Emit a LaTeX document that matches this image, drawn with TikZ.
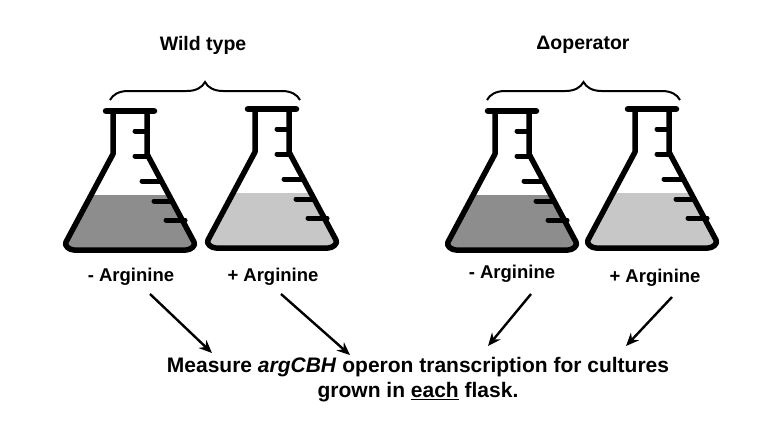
\documentclass[tikz,border=0pt]{standalone}
\usepackage{fontspec}
\setmainfont{Liberation Sans}
\usetikzlibrary{arrows.meta,decorations.pathreplacing}
\begin{document}
\begin{tikzpicture}[x=1pt,y=-1pt,
  lbl/.style={font=\bfseries\fontsize{18.5}{22}\selectfont,inner sep=0pt},
  arr/.style={line width=2.4pt,-{Stealth[length=13pt,width=11pt]}},
  brc/.style={line width=2pt,decorate,decoration={brace,amplitude=18pt}},
  flask/.pic={
    \path[fill=white] (-17,3) -- (-17,45) -- (-64,133) to[out=240,in=180] (-56,141) -- (56,141) to[out=0,in=300] (64,133) -- (17,45) -- (17,3) -- cycle;
    \begin{scope}
      \clip (-80,86) rectangle (80,150);
      \path[fill=\flaskfill] (-17,3) -- (-17,45) -- (-64,133) to[out=240,in=180] (-56,141) -- (56,141) to[out=0,in=300] (64,133) -- (17,45) -- (17,3) -- cycle;
    \end{scope}
    \draw[line width=5.5pt,line join=round] (-17,3) -- (-17,45) -- (-64,133) to[out=240,in=180] (-56,141) -- (56,141) to[out=0,in=300] (64,133) -- (17,45) -- (17,3);
    \draw[line width=6.5pt,line cap=round] (-24,2) -- (24,2);
    \draw[line width=5pt,line cap=round] (5,22) -- (17,22) (5,47) -- (17,47) (12,72) -- (30,72) (24,92) -- (42,92) (36,111) -- (55,111);
  }]
\useasboundingbox (0,0) rectangle (783,440);
\def\flaskfill{gray!95!black!85}
\pic at (130,109) {flask};
\def\flaskfill{black!22}
\pic at (272,107) {flask};
\def\flaskfill{gray!95!black!85}
\pic at (512,109) {flask};
\def\flaskfill{black!22}
\pic at (652,107) {flask};
\node[lbl,font=\bfseries\fontsize{19.5}{22}\selectfont] (wt) at (203,45) {Wild type};
\node[lbl,font=\bfseries\fontsize{19.5}{22}\selectfont] (op) at (583,45) {Δoperator};
\coordinate (b1l) at (110,100); \coordinate (b1r) at (300,100);
\coordinate (b2l) at (487,100); \coordinate (b2r) at (680,100);
\draw[brc] (b1l) -- (b1r);
\draw[brc] (b2l) -- (b2r);
\node[lbl] (l1) at (131,277) {- Arginine};
\node[lbl] (l2) at (273,277) {+ Arginine};
\node[lbl] (l3) at (512,274) {- Arginine};
\node[lbl] (l4) at (655,278) {+ Arginine};
\node[lbl,align=center,font=\bfseries\fontsize{21}{25}\selectfont] (m) at (418,380) {Measure \textit{argCBH} operon transcription for cultures\\grown in \underline{each} flask.};
\draw[arr] (150,294) -- (212,353);
\draw[arr] (281,294) -- (350,355);
\draw[arr] (531,294) -- (488,346);
\draw[arr] (672,297) -- (626,346);
\end{tikzpicture}
\end{document}
